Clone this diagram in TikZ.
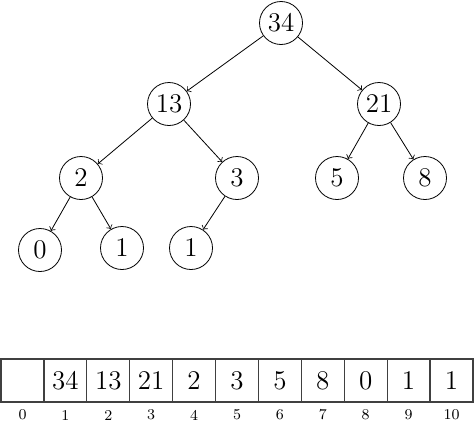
\documentclass[tikz,border=0pt]{standalone}
\usepackage{tikz}

\begin{document}
\begin{tikzpicture}[x=0.5pt, y=-0.5pt,
    key/.style={draw, circle, minimum size=21.5pt, inner sep=0pt, font=\fontsize{13.5}{15}\selectfont},
    cell/.style={draw=black!75, line width=0.6pt, minimum width=21.45pt, minimum height=21.5pt, inner sep=0pt, font=\fontsize{13.5}{15}\selectfont},
    idx/.style={font=\fontsize{7.5}{9}\selectfont}]
    \useasboundingbox (0,0) rectangle (474,428);

    % Heap as a tree
    \node[key] (k1) at (281,23) {34};
    \node[key] (k2) at (169,104) {13};
    \node[key] (k3) at (379,104) {21};
    \node[key] (k4) at (81,178) {2};
    \node[key] (k5) at (237,178) {3};
    \node[key] (k6) at (337,178) {5};
    \node[key] (k7) at (425,178) {8};
    \node[key] (k8) at (40,250) {0};
    \node[key] (k9) at (122,248) {1};
    \node[key] (k10) at (191,248) {1};

    \foreach \p/\c in {k1/k2, k1/k3, k2/k4, k2/k5, k3/k6, k3/k7, k4/k8, k4/k9, k5/k10}
        \draw[->] (\p) -- (\c);

    % Heap as an array
    \foreach \v [count=\i from 0] in {{}, 34, 13, 21, 2, 3, 5, 8, 0, 1, 1} {
        \node[cell] (c\i) at ({22.5+42.9*\i},380.5) {\v};
        \node[idx] (i\i) at ({22.5+42.9*\i},415) {\i};
    }
\end{tikzpicture}
\end{document}
